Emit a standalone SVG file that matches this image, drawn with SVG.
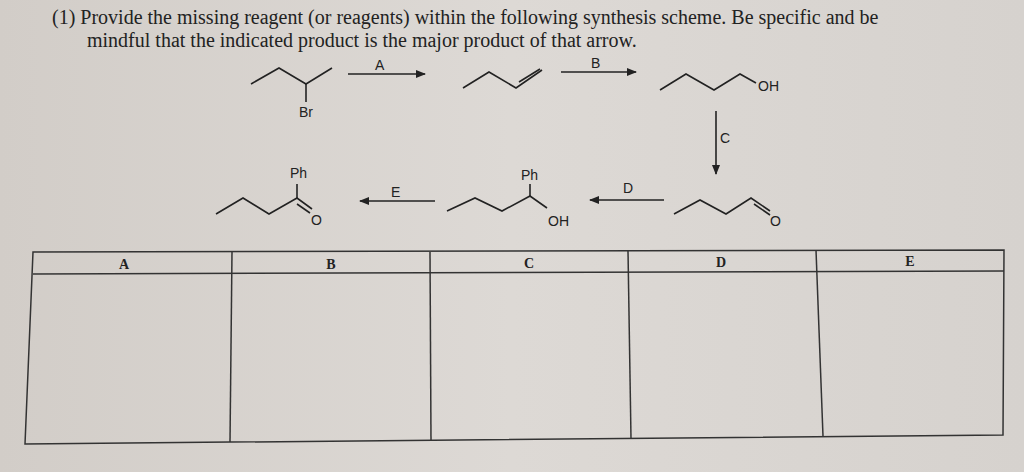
<svg xmlns="http://www.w3.org/2000/svg" width="1024" height="472" viewBox="0 0 1024 472">
<defs>
<linearGradient id="bg" x1="0" y1="0" x2="1" y2="0"><stop offset="0" stop-color="#d2cdc8"/><stop offset="0.5" stop-color="#ddd9d5"/><stop offset="1" stop-color="#d6d2ce"/></linearGradient>
<marker id="ah" markerWidth="10" markerHeight="8" refX="9" refY="4" orient="auto" markerUnits="userSpaceOnUse"><path d="M0,0 L10,4 L0,8 Z" fill="#222"/></marker>
<style>
.b{stroke:#222;stroke-width:1.6;fill:none;stroke-linejoin:miter}
.t{font-family:"Liberation Sans",Arial,sans-serif;font-size:14px;fill:#222}
.s{font-family:"Liberation Serif","Times New Roman",serif;font-size:20px;fill:#222}
.h{font-family:"Liberation Serif","Times New Roman",serif;font-size:14px;font-weight:bold;fill:#222;text-anchor:middle}
.a{stroke:#222;stroke-width:1.6;marker-end:url(#ah)}
.g{stroke:#333;stroke-width:1.5;fill:none}
</style>
</defs>
<rect width="1024" height="472" fill="url(#bg)"/>
<text class="s" x="52" y="24">(1) Provide the missing reagent (or reagents) within the following synthesis scheme. Be specific and be</text>
<text class="s" x="87" y="47">mindful that the indicated product is the major product of that arrow.</text>
<g id="bromobutane"><polyline class="b" points="251,84 279,68 306,84 332,68"/><line class="b" x1="306" y1="84" x2="306" y2="102"/><text class="t" x="299" y="117">Br</text></g>
<g id="butene"><polyline class="b" points="463,88 489,72 516,88 542,70"/><line class="b" x1="519" y1="82" x2="540" y2="69"/></g>
<g id="butanol"><polyline class="b" points="660,90 686,74 714,90 740,74 756,83"/><text class="t" x="758" y="91">OH</text></g>
<g id="butanal"><polyline class="b" points="674,214 700,200 726,214 751,198 770,211"/><line class="b" x1="754" y1="204" x2="770" y2="215"/><text class="t" x="770" y="226">O</text></g>
<g id="alcohol"><polyline class="b" points="447,211 475,198 502,211 530,196 547,208"/><line class="b" x1="530" y1="196" x2="530" y2="184"/><text class="t" x="521" y="180">Ph</text><text class="t" x="548" y="226">OH</text></g>
<g id="ketone"><polyline class="b" points="216,214 243,198 269,214 297,198 312,209"/><line class="b" x1="297" y1="204" x2="310" y2="213"/><line class="b" x1="297" y1="198" x2="297" y2="184"/><text class="t" x="290" y="178">Ph</text><text class="t" x="311" y="225">O</text></g>
<g id="connectors">
<line class="a" x1="348" y1="74" x2="425" y2="74"/><text class="t" x="375" y="70">A</text>
<line class="a" x1="561" y1="72" x2="636" y2="72"/><text class="t" x="591" y="68">B</text>
<line class="a" x1="716" y1="111" x2="716" y2="174"/><text class="t" x="720" y="143">C</text>
<line class="a" x1="664" y1="200" x2="590" y2="200"/><text class="t" x="623" y="193">D</text>
<line class="a" x1="435" y1="201" x2="360" y2="201"/><text class="t" x="391" y="197">E</text>
</g>
<g id="table">
<polygon class="g" points="33,252 1004,250 1003,435 25,444"/>
<line class="g" x1="33" y1="274" x2="1004" y2="271"/>
<line class="g" x1="232" y1="252" x2="230" y2="442"/>
<line class="g" x1="430" y1="252" x2="431" y2="440"/>
<line class="g" x1="628" y1="251" x2="631" y2="438"/>
<line class="g" x1="816" y1="250" x2="823" y2="436"/>
<text class="h" x="124" y="269">A</text><text class="h" x="331" y="269">B</text><text class="h" x="529" y="268">C</text><text class="h" x="721" y="267">D</text><text class="h" x="910" y="266">E</text>
</g>
</svg>
